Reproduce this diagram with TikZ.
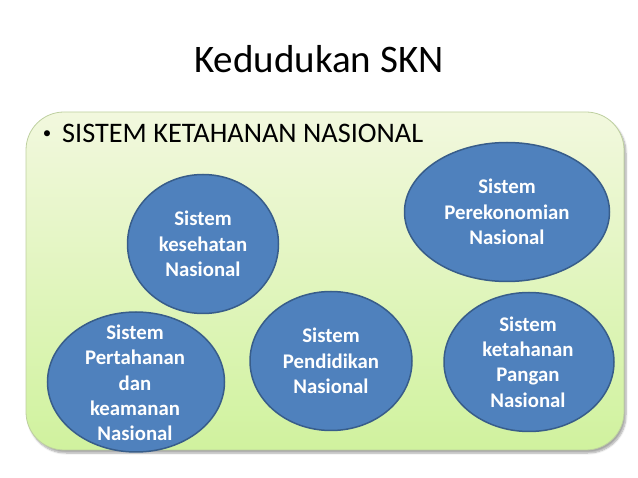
\documentclass[tikz,border=0pt]{standalone}
\usepackage{fontspec}
\setmainfont{Carlito}
\usetikzlibrary{shapes.geometric,shadows.blur}
\definecolor{bluefill}{HTML}{4F81BD}
\definecolor{blueline}{HTML}{385D8A}
\definecolor{greentop}{RGB}{242,248,222}
\definecolor{greenbot}{RGB}{208,242,158}
\definecolor{greenline}{RGB}{190,208,160}
\tikzset{
  bubble/.style={ellipse, draw=blueline, line width=1.5pt, fill=bluefill, inner sep=0pt},
  btext/.style={text=white, font=\bfseries\fontsize{20.8}{25.3}\selectfont, align=center, inner sep=0pt},
  panel/.style={draw=greenline, line width=0.8pt, rounded corners=38pt,
    top color=greentop, bottom color=greenbot,
    blur shadow={shadow xshift=2pt, shadow yshift=-3pt, shadow blur steps=6, shadow opacity=35}},
}
\begin{document}
\begin{tikzpicture}[x=1pt,y=-1pt]
\useasboundingbox (0,0) rectangle (638,478);
\node[font=\fontsize{39}{45}\selectfont, anchor=base, inner sep=0pt] (title) at (319,73) {Kedudukan SKN};
\path[panel] (26,112) rectangle (624,450);
\node[font=\fontsize{17}{20}\selectfont, anchor=base, inner sep=0pt] (bul) at (47,139) {•};
\node[font=\fontsize{28.3}{32}\selectfont, anchor=base west, inner sep=0pt] (sub) at (62,143) {SISTEM KETAHANAN NASIONAL};
\node[bubble, minimum width=151, minimum height=139] (kes) at (203,244) {};
\node[bubble, minimum width=205, minimum height=139] (eko) at (507,212) {};
\node[bubble, minimum width=177, minimum height=140] (han) at (136,382) {};
\node[bubble, minimum width=162, minimum height=139] (pen) at (331,361) {};
\node[bubble, minimum width=170, minimum height=139] (pan) at (529,362) {};
\node[btext] (kest) at (kes.center) {Sistem\\kesehatan\\Nasional};
\node[btext] (ekot) at (eko.center) {Sistem\\Perekonomian\\Nasional};
\node[btext] (hant) at (135,383) {Sistem\\Pertahanan\\dan\\keamanan\\Nasional};
\node[btext] (pent) at (pen.center) {Sistem\\Pendidikan\\Nasional};
\node[btext] (pant) at (528,362) {Sistem\\ketahanan\\Pangan\\Nasional};
\end{tikzpicture}
\end{document}
